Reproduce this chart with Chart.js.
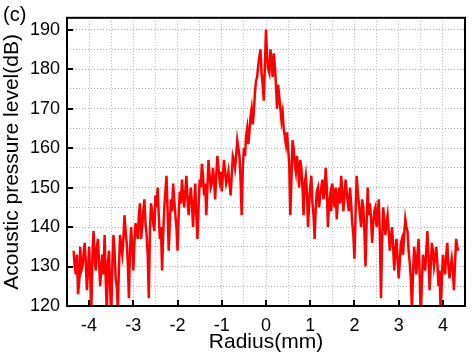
<!DOCTYPE html>
<html>
<head>
<meta charset="utf-8">
<script src="https://cdn.jsdelivr.net/npm/chart.js@4/dist/chart.umd.min.js"></script>
<style>
html,body{margin:0;padding:0;background:#fff;}
#c{display:block;}
</style>
</head>
<body>
<canvas id="c" width="474" height="355"></canvas>
<script>
const panelLabel = '(c)';
const xTitle = 'Radius(mm)';
const yTitle = 'Acoustic pressure level(dB)';

const radius = [
-4.350,-4.325,-4.300,-4.275,-4.250,-4.225,-4.200,-4.175,-4.150,-4.125,-4.100,-4.075,-4.050,-4.025,-4.000,-3.975,-3.950,-3.925,-3.900,-3.875,
-3.850,-3.825,-3.800,-3.775,-3.750,-3.725,-3.700,-3.675,-3.650,-3.625,-3.600,-3.575,-3.550,-3.525,-3.500,-3.475,-3.450,-3.425,-3.400,-3.375,
-3.350,-3.325,-3.300,-3.275,-3.250,-3.225,-3.200,-3.175,-3.150,-3.125,-3.100,-3.075,-3.050,-3.025,-3.000,-2.975,-2.950,-2.925,-2.900,-2.875,
-2.850,-2.825,-2.800,-2.775,-2.750,-2.725,-2.700,-2.675,-2.650,-2.625,-2.600,-2.575,-2.550,-2.525,-2.500,-2.475,-2.450,-2.425,-2.400,-2.375,
-2.350,-2.325,-2.300,-2.275,-2.250,-2.225,-2.200,-2.175,-2.150,-2.125,-2.100,-2.075,-2.050,-2.025,-2.000,-1.975,-1.950,-1.925,-1.900,-1.875,
-1.850,-1.825,-1.800,-1.775,-1.750,-1.725,-1.700,-1.675,-1.650,-1.625,-1.600,-1.575,-1.550,-1.525,-1.500,-1.475,-1.450,-1.425,-1.400,-1.375,
-1.350,-1.325,-1.300,-1.275,-1.250,-1.225,-1.200,-1.175,-1.150,-1.125,-1.100,-1.075,-1.050,-1.025,-1.000,-0.975,-0.950,-0.925,-0.900,-0.875,
-0.850,-0.825,-0.800,-0.775,-0.750,-0.725,-0.700,-0.675,-0.650,-0.625,-0.600,-0.575,-0.550,-0.525,-0.500,-0.475,-0.450,-0.425,-0.400,-0.375,
-0.350,-0.325,-0.300,-0.275,-0.250,-0.225,-0.200,-0.175,-0.150,-0.125,-0.100,-0.075,-0.050,-0.025,0.000,0.025,0.050,0.075,0.100,0.125,
0.150,0.175,0.200,0.225,0.250,0.275,0.300,0.325,0.350,0.375,0.400,0.425,0.450,0.475,0.500,0.525,0.550,0.575,0.600,0.625,
0.650,0.675,0.700,0.725,0.750,0.775,0.800,0.825,0.850,0.875,0.900,0.925,0.950,0.975,1.000,1.025,1.050,1.075,1.100,1.125,
1.150,1.175,1.200,1.225,1.250,1.275,1.300,1.325,1.350,1.375,1.400,1.425,1.450,1.475,1.500,1.525,1.550,1.575,1.600,1.625,
1.650,1.675,1.700,1.725,1.750,1.775,1.800,1.825,1.850,1.875,1.900,1.925,1.950,1.975,2.000,2.025,2.050,2.075,2.100,2.125,
2.150,2.175,2.200,2.225,2.250,2.275,2.300,2.325,2.350,2.375,2.400,2.425,2.450,2.475,2.500,2.525,2.550,2.575,2.600,2.625,
2.650,2.675,2.700,2.725,2.750,2.775,2.800,2.825,2.850,2.875,2.900,2.925,2.950,2.975,3.000,3.025,3.050,3.075,3.100,3.125,
3.150,3.175,3.200,3.225,3.250,3.275,3.300,3.325,3.350,3.375,3.400,3.425,3.450,3.475,3.500,3.525,3.550,3.575,3.600,3.625,
3.650,3.675,3.700,3.725,3.750,3.775,3.800,3.825,3.850,3.875,3.900,3.925,3.950,3.975,4.000,4.025,4.050,4.075,4.100,4.125,
4.150,4.175,4.200,4.225,4.250,4.275,4.300,4.325,4.350
];

const level = [
134,130,128,133,123,126,135,129,130,133,136,131,124,129,135,128,118,133,139,132,
129,135,137,131,125,130,133,128,138,127,118,131,134,125,117,130,138,134,127,125,
119,130,138,135,133,137,143,139,136,131,122,134,140,135,129,136,141,139,137,143,
146,137,140,144,147,141,138,133,122,139,146,144,141,139,148,145,150,143,137,140,
129,138,145,149,153,144,134,141,147,144,151,147,143,140,134,143,149,146,152,148,
145,149,153,147,143,147,150,146,140,146,151,143,137,145,152,150,156,153,148,151,
143,150,157,153,150,151,155,152,147,153,158,155,152,154,149,153,157,154,151,152,
154,151,148,153,158,157,155,158,162,160,158,152,143,155,160,158,163,165,161,164,
168,170,166,169,174,177,178,181,183,185,179,176,172,181,190,183,180,179,185,182,
178,184,181,176,170,176,173,170,167,169,165,163,161,164,160,156,143,152,162,160,
156,154,158,155,150,157,155,150,143,151,153,149,140,146,150,153,146,143,137,145,
149,150,145,148,150,152,147,149,155,150,140,146,148,144,151,148,145,150,142,147,
150,146,153,149,144,148,152,149,146,144,150,146,141,138,132,143,153,149,146,143,
140,147,145,139,130,141,150,143,146,142,136,141,144,145,140,143,147,138,122,136,
145,142,138,141,143,139,134,137,140,135,129,134,137,132,127,131,136,137,133,138,
142,140,139,134,131,127,119,128,135,132,128,133,137,128,117,126,133,131,129,134,
139,132,124,130,136,134,130,132,135,131,125,129,118,126,133,130,128,133,136,130,
127,130,132,129,124,131,137,135,134
];

const xMin = -4.5, xMax = 4.5, xStep = 0.5;
const yMin = 120, yMax = 193;
const yGridValues = [120,125,130,135,140,145,150,155,160,165,170,175,180,185,190];
const yLabelValues = [120,130,140,150,160,170,180,190];

const points = radius.map((r, i) => ({x: r, y: level[i]}));

const FONT = '"Liberation Sans", Arial, sans-serif';

const framePlugin = {
  id: 'frame',
  afterDraw(chart) {
    const {ctx, chartArea: a, scales: {x, y}} = chart;
    ctx.save();
    ctx.strokeStyle = '#000';
    ctx.lineWidth = 2;
    ctx.beginPath();
    x.ticks.forEach(t => {
      if (Math.abs(t.value - Math.round(t.value)) < 1e-9) {
        const px = Math.round(x.getPixelForValue(t.value));
        ctx.moveTo(px, a.bottom); ctx.lineTo(px, a.bottom - 6);
      }
    });
    yLabelValues.forEach(v => {
      const py = Math.round(y.getPixelForValue(v));
      ctx.moveTo(a.left, py); ctx.lineTo(a.left + 6, py);
    });
    ctx.stroke();
    ctx.strokeRect(a.left, a.top, a.right - a.left, a.bottom - a.top);
    ctx.fillStyle = '#000';
    ctx.font = '20px ' + FONT;
    ctx.textBaseline = 'top';
    ctx.textAlign = 'left';
    ctx.fillText(panelLabel, 3, 5);
    ctx.restore();
  }
};

new Chart(document.getElementById('c'), {
  type: 'line',
  data: {
    datasets: [{
      data: points,
      borderColor: '#ff0000',
      borderWidth: 2.5,
      pointRadius: 0,
      tension: 0,
      fill: false
    }]
  },
  options: {
    responsive: false,
    animation: false,
    devicePixelRatio: 1,
    layout: {padding: {top: 5, right: 4, left: 0, bottom: 0}},
    plugins: {legend: {display: false}, tooltip: {enabled: false}},
    scales: {
      x: {
        type: 'linear',
        min: xMin, max: xMax,
        afterFit(s) { s.height = 49; },
        ticks: {
          stepSize: xStep,
          autoSkip: false,
          maxRotation: 0,
          padding: 9,
          color: '#000',
          font: {family: FONT, size: 18},
          callback: v => (Math.abs(v - Math.round(v)) < 1e-9 ? String(Math.round(v)) : '')
        },
        grid: {color: '#b4b4b4', lineWidth: 1, drawTicks: false},
        border: {display: false, dash: [1, 2]},
        title: {display: true, text: xTitle, color: '#000', font: {family: FONT, size: 21}, padding: 0}
      },
      y: {
        type: 'linear',
        min: yMin, max: yMax,
        afterBuildTicks(s) { s.ticks = yGridValues.map(v => ({value: v})); },
        afterFit(s) { s.width = 67; },
        ticks: {
          autoSkip: false,
          padding: 7,
          color: '#000',
          font: {family: FONT, size: 18},
          callback: v => (yLabelValues.includes(v) ? String(v) : '')
        },
        grid: {color: '#b4b4b4', lineWidth: 1, drawTicks: false},
        border: {display: false, dash: [1, 2]},
        title: {display: true, text: yTitle, color: '#000', font: {family: FONT, size: 21}, padding: 0}
      }
    }
  },
  plugins: [framePlugin]
});
</script>
</body>
</html>
